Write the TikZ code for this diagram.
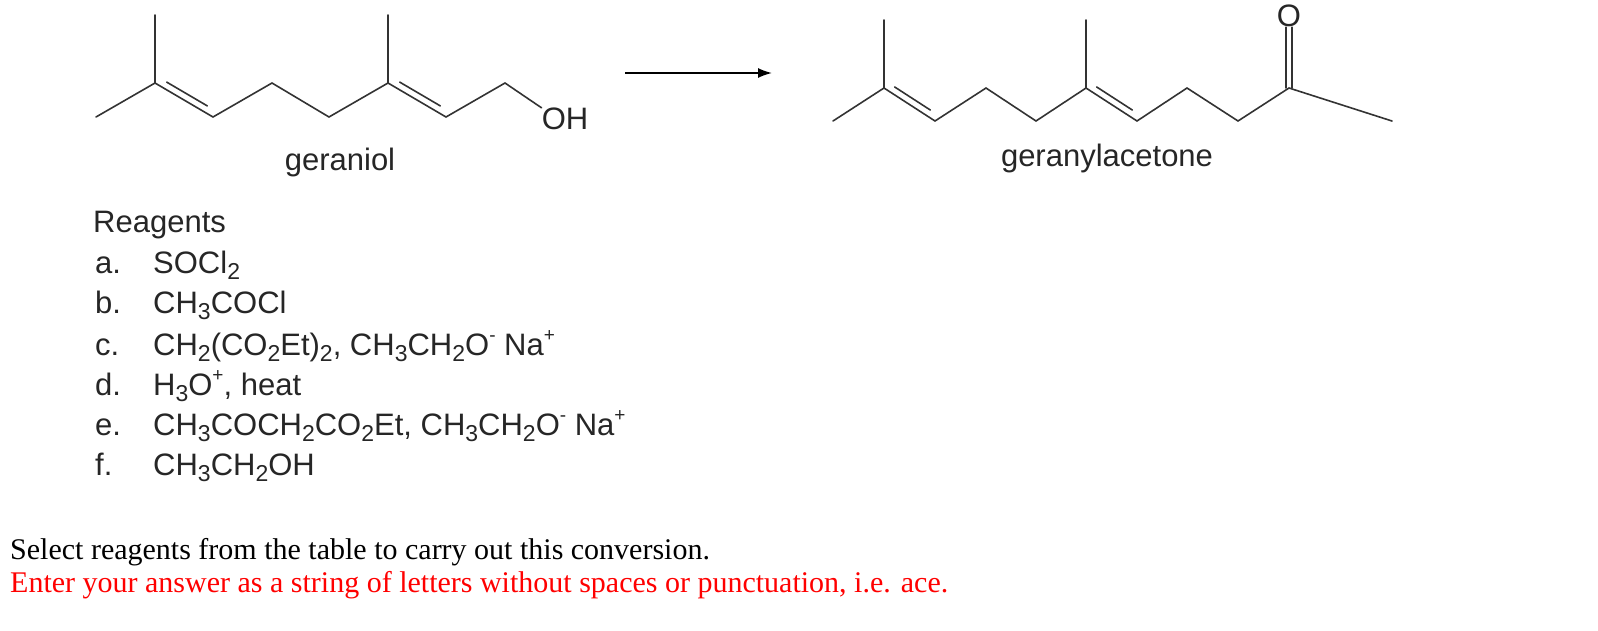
\documentclass[tikz,border=0pt]{standalone}
\usepackage{fontspec}
\setmainfont{Liberation Sans}
\newfontfamily\timesf{Liberation Serif}
\usetikzlibrary{arrows.meta,calc}
\newcommand{\mysb}[1]{\raisebox{-0.22em}{\fontsize{23}{23}\selectfont #1}}
\newcommand{\mysp}[1]{\raisebox{0.45em}{\fontsize{19}{19}\selectfont #1}}
\begin{document}
\begin{tikzpicture}[x=1pt,y=-1pt,
  bond/.style={line width=1.6pt,color=black!80,line cap=round},
  lbl/.style={font=\fontsize{31}{36}\selectfont,inner sep=0pt,text=black!85},
  rg/.style={font=\fontsize{31}{36}\selectfont,inner sep=0pt,anchor=base west,text=black!85},
  q/.style={font=\timesf\fontsize{30}{34}\selectfont,inner sep=0pt,anchor=base west}]
\useasboundingbox (0,0) rectangle (1598,630);
% geraniol
\coordinate (g1) at (96,117); \coordinate (g2) at (155,83); \coordinate (g2m) at (155,15);
\coordinate (g3) at (213,117); \coordinate (g4) at (272,83); \coordinate (g5) at (329,117);
\coordinate (g6) at (388,83); \coordinate (g6m) at (388,15); \coordinate (g7) at (446,117);
\coordinate (g8) at (505,83); \node[lbl] (oh) at (565,119) {OH};
\draw[bond] (g1)--(g2)--(g3)--(g4)--(g5)--(g6)--(g7)--(g8)--(oh.north west);
\draw[bond] (g2)--(g2m); \draw[bond] (g6)--(g6m);
\draw[bond] ($(g2)!0.15!(g3)+(3,-6)$)--($(g2)!0.85!(g3)+(3,-6)$);
\draw[bond] ($(g6)!0.15!(g7)+(3,-6)$)--($(g6)!0.85!(g7)+(3,-6)$);
\node[lbl] (gn) at (340,162) {geraniol};
% arrow
\coordinate (a1) at (625,73); \coordinate (a2) at (772,73);
\draw[line width=1.6pt,-{Latex[length=14pt,width=10pt]}] (a1)--(a2);
% geranylacetone
\coordinate (h1) at (833,121); \coordinate (h2) at (884,88); \coordinate (h2m) at (884,20);
\coordinate (h3) at (935,121); \coordinate (h4) at (986,88); \coordinate (h5) at (1036,121);
\coordinate (h6) at (1086,88); \coordinate (h6m) at (1086,20); \coordinate (h7) at (1137,121);
\coordinate (h8) at (1187,88); \coordinate (h9) at (1238,121); \coordinate (h10) at (1289,88);
\coordinate (h11) at (1392,121); \node[lbl] (o) at (1289,16) {O};
\draw[bond] (h1)--(h2)--(h3)--(h4)--(h5)--(h6)--(h7)--(h8)--(h9)--(h10)--(h11);
\draw[bond] (h2)--(h2m); \draw[bond] (h6)--(h6m);
\draw[bond] ($(h2)!0.15!(h3)+(3,-6)$)--($(h2)!0.85!(h3)+(3,-6)$);
\draw[bond] ($(h6)!0.15!(h7)+(3,-6)$)--($(h6)!0.85!(h7)+(3,-6)$);
\draw[bond] ([xshift=-3pt]h10)--([xshift=-3pt]o.south);
\draw[bond] ([xshift=3pt]h10)--([xshift=3pt]o.south);
\node[lbl] (gan) at (1107,158) {geranylacetone};
% reagents
\node[rg] (rt) at (93,232) {Reagents};
\node[rg] (ra) at (95,273) {a.}; \node[rg] (rai) at (153,273) {SOCl\mysb{2}};
\node[rg] (rb) at (95,313) {b.}; \node[rg] (rbi) at (153,313) {CH\mysb{3}COCl};
\node[rg] (rc) at (95,355) {c.}; \node[rg] (rci) at (153,355) {CH\mysb{2}(CO\mysb{2}Et)\mysb{2}, CH\mysb{3}CH\mysb{2}O\mysp{-} Na\mysp{+}};
\node[rg] (rd) at (95,395) {d.}; \node[rg] (rdi) at (153,395) {H\mysb{3}O\mysp{+}, heat};
\node[rg] (re) at (95,435) {e.}; \node[rg] (rei) at (153,435) {CH\mysb{3}COCH\mysb{2}CO\mysb{2}Et, CH\mysb{3}CH\mysb{2}O\mysp{-} Na\mysp{+}};
\node[rg] (rf) at (95,475) {f.}; \node[rg] (rfi) at (153,475) {CH\mysb{3}CH\mysb{2}OH};
% question
\node[q] (q1) at (10,559) {Select reagents from the table to carry out this conversion.};
\node[q,text=red] (q2) at (10,592) {Enter your answer as a string of letters without spaces or punctuation, i.e. ace.};
\end{tikzpicture}
\end{document}
